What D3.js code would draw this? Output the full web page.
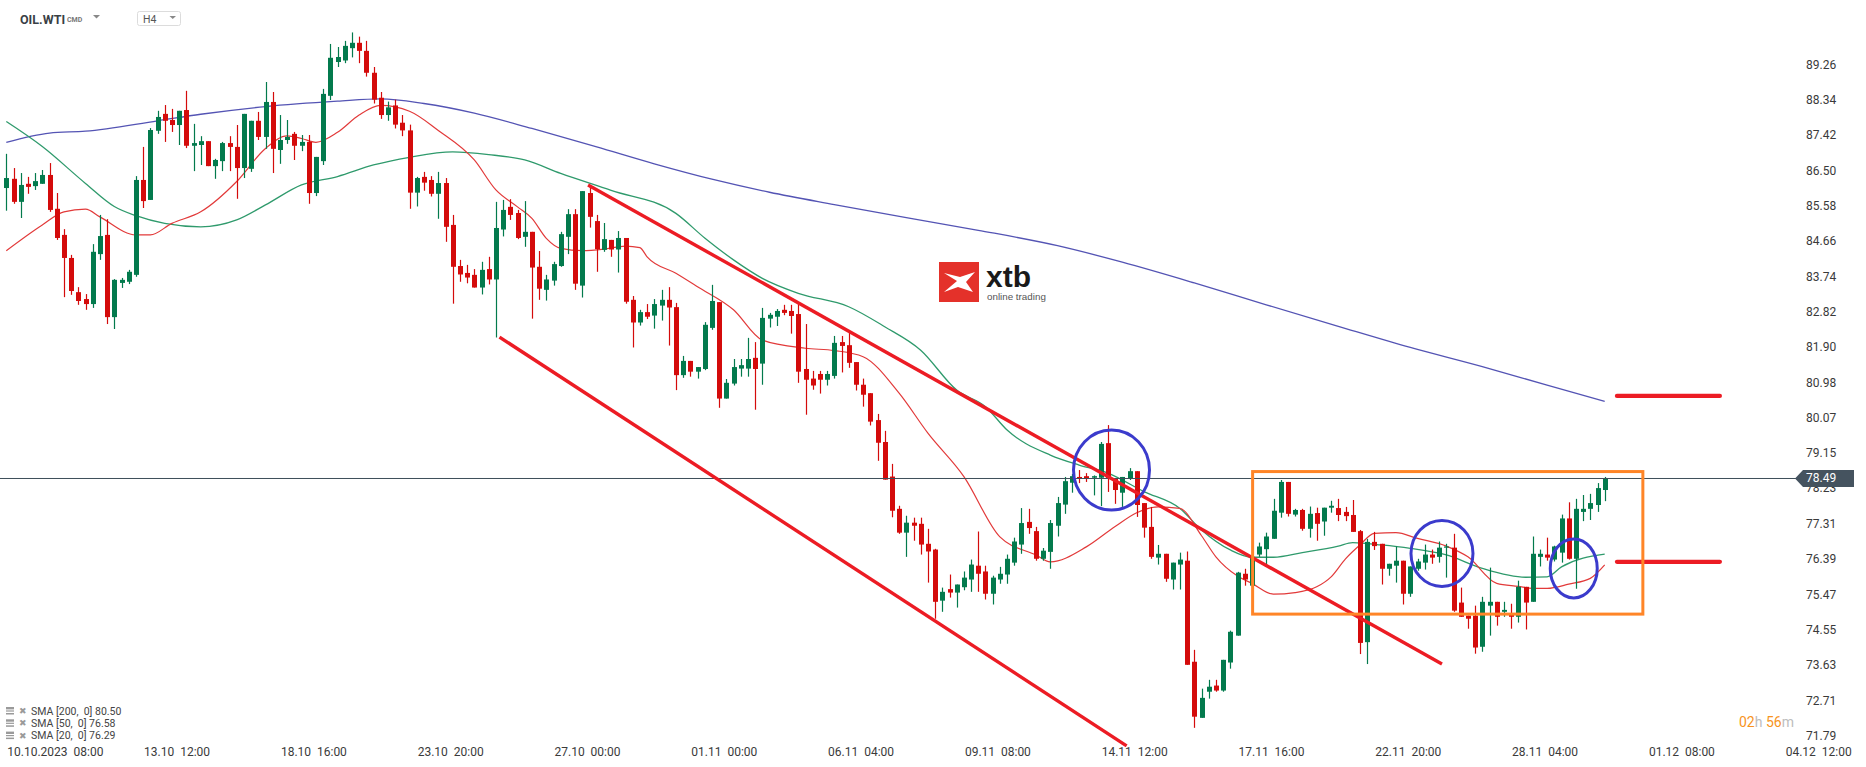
<!DOCTYPE html>
<html><head><meta charset="utf-8">
<script src="https://cdn.jsdelivr.net/npm/d3@7"></script>
<style>
body{margin:0;background:#fff;overflow:hidden}
svg{display:block;font-family:Roboto,"Noto Sans",sans-serif}
</style>
</head><body>
<svg id="chart" width="1866" height="767"></svg>
<script>
// ---------- DATA ----------
const opens=[86.05,86.29,85.69,86.16,86.10,86.16,86.39,85.51,84.83,84.23,
83.34,83.16,83.03,84.33,84.83,82.69,83.58,83.61,83.79,86.26,
85.74,87.54,87.98,87.82,87.69,88.08,87.15,87.17,87.27,86.62,
86.75,87.22,87.12,86.57,86.55,87.80,87.38,88.29,87.04,87.30,
87.46,87.15,87.25,85.92,86.75,88.45,89.33,89.37,89.69,89.83,
89.62,89.05,88.40,87.95,88.20,87.75,87.55,85.93,86.34,86.26,
85.90,86.18,85.09,84.02,83.84,83.79,83.46,83.94,83.67,84.97,
85.56,85.40,84.78,84.91,84.00,83.40,83.64,84.02,84.78,85.37,
83.51,85.92,85.19,84.44,84.70,84.45,84.75,83.14,82.55,82.82,
82.73,82.99,83.14,82.95,81.18,81.55,81.27,81.34,82.41,83.08,
80.57,80.96,81.35,81.35,81.63,81.48,82.65,82.70,82.88,82.85,
82.77,81.34,81.09,81.21,81.06,81.16,82.04,81.96,81.52,80.93,
80.71,80.01,79.44,78.54,77.70,77.08,77.34,77.31,76.79,76.64,
75.31,75.61,75.52,75.66,75.86,76.22,76.07,75.49,75.86,75.99,
76.30,76.77,77.36,77.12,76.40,76.58,77.26,77.81,78.38,78.53,
78.55,78.51,78.51,79.41,78.49,78.12,78.50,78.68,77.85,77.23,
76.43,76.53,75.86,76.25,76.35,73.72,72.26,72.94,73.10,72.97,
73.70,74.40,76.01,75.70,76.51,76.65,76.92,77.60,78.40,77.55,
77.67,77.18,77.59,77.37,77.73,77.72,77.62,77.54,77.12,74.23,
76.84,76.79,76.14,76.22,76.35,75.49,76.14,76.30,76.51,76.45,
76.69,76.69,75.26,74.92,74.92,74.11,75.18,75.28,75.02,74.97,
74.89,75.67,75.28,76.45,76.51,76.38,76.56,77.45,76.40,77.62,
77.70,77.80,78.19];
const highs=[86.94,86.57,86.44,86.34,86.44,86.52,86.70,85.92,84.98,84.31,
83.47,83.29,84.59,85.35,85.24,83.68,83.71,83.92,86.36,87.12,
87.61,88.06,88.21,88.11,88.06,88.58,87.72,87.40,87.27,86.81,
87.25,87.40,87.69,87.98,87.80,88.03,88.81,88.55,87.95,87.82,
87.51,87.43,87.43,86.86,88.63,89.80,89.72,89.88,90.10,89.99,
89.88,89.20,88.55,88.30,88.35,87.95,87.70,86.34,86.47,86.36,
86.47,86.31,85.35,84.18,84.05,83.94,84.13,84.26,85.69,85.74,
85.76,85.48,85.71,84.91,84.41,83.79,84.13,84.91,85.50,85.50,
85.97,86.08,85.35,85.14,84.70,84.93,84.75,83.24,82.88,83.03,
83.16,83.40,83.47,83.06,81.68,81.55,81.39,82.56,83.53,83.08,
81.08,81.60,81.60,82.15,82.04,82.93,82.80,82.90,83.01,83.01,
83.03,82.51,81.29,81.29,81.29,82.20,82.20,82.30,81.52,81.09,
80.71,80.17,79.73,78.87,77.78,77.52,77.47,77.47,77.18,76.66,
75.65,75.99,75.73,76.07,76.38,77.11,76.22,75.96,76.19,76.51,
76.95,77.72,77.70,77.23,76.68,77.41,78.01,78.53,78.61,78.71,
78.63,78.57,79.44,79.88,78.50,78.53,78.76,78.68,77.85,77.75,
76.76,76.53,76.30,76.56,76.59,74.03,73.02,73.25,73.25,73.77,
74.53,76.06,76.14,76.51,76.82,77.08,77.96,78.45,78.40,77.70,
77.70,77.76,77.73,77.73,77.91,77.96,77.75,77.93,77.15,76.92,
77.10,76.79,76.27,76.72,76.35,76.20,76.40,76.77,76.64,76.85,
76.79,77.05,75.65,74.92,75.18,75.41,76.17,75.28,75.28,75.23,
75.83,75.67,76.98,76.64,76.95,76.74,77.55,77.87,77.96,78.06,
78.09,78.37,78.53];
const lows=[85.46,85.64,85.27,85.90,86.00,86.16,85.43,84.70,83.21,83.27,
83.01,82.88,82.93,84.18,82.51,82.38,83.45,83.55,83.74,85.53,
85.74,87.46,87.25,87.51,87.17,87.09,86.49,86.65,86.62,86.29,
86.49,86.49,85.77,86.31,86.47,87.30,87.07,86.44,86.68,87.20,
86.78,87.01,85.64,85.84,86.65,88.34,89.20,89.30,89.45,89.30,
88.95,88.25,87.85,87.80,87.60,87.40,85.51,85.57,85.98,85.83,
85.25,84.65,83.04,83.61,83.57,83.46,83.28,83.54,82.16,84.79,
85.22,84.72,84.52,82.65,83.14,83.12,83.51,84.00,84.33,83.40,
83.20,85.02,83.87,84.39,84.26,83.85,83.04,81.90,82.47,82.64,
82.39,82.60,81.95,80.79,81.11,81.14,81.09,81.31,82.36,80.33,
80.57,80.91,81.14,81.14,80.28,80.93,82.42,82.46,82.74,82.26,
80.98,80.15,80.80,80.70,80.91,81.09,81.25,81.37,80.78,80.36,
79.87,78.95,78.46,77.48,77.05,76.45,76.87,76.51,75.78,74.84,
75.02,75.39,75.13,75.58,75.54,75.54,75.34,75.21,75.75,75.75,
76.22,76.53,77.05,76.35,76.35,76.14,76.98,77.57,78.12,78.37,
78.40,78.05,77.77,78.14,77.83,77.75,78.45,77.49,76.95,76.40,
76.25,75.80,75.60,75.60,73.64,72.00,72.26,72.76,72.94,72.94,
73.54,74.40,75.70,75.67,76.45,76.25,76.92,77.47,77.50,77.50,
77.13,76.95,76.87,77.00,77.60,77.38,77.38,77.10,73.92,73.66,
76.63,75.73,75.96,75.78,75.21,75.41,76.09,76.12,76.27,76.30,
75.91,75.02,74.89,74.58,73.93,73.98,74.40,74.66,74.89,74.58,
74.74,74.56,75.28,76.20,76.35,76.33,76.30,76.38,75.62,77.38,
77.41,77.62,77.90];
const closes=[86.31,85.69,86.13,86.08,86.23,86.39,85.48,84.75,84.23,83.37,
83.11,83.03,84.39,84.80,82.69,83.66,83.66,83.87,86.26,85.71,
87.56,87.90,87.80,87.69,88.06,87.15,87.22,87.27,86.62,86.78,
87.22,87.12,86.57,87.98,87.80,87.38,88.29,87.07,87.30,87.38,
87.15,87.25,85.92,86.86,88.50,89.44,89.46,89.75,89.83,89.62,
89.05,88.35,87.95,88.15,87.70,87.55,85.93,86.31,86.19,85.90,
86.18,85.04,84.00,83.80,83.72,83.46,83.92,83.67,85.01,85.48,
85.35,84.75,84.91,83.98,83.43,83.67,84.07,84.85,85.37,83.56,
85.97,85.30,84.46,84.72,84.45,84.75,83.09,82.55,82.82,82.70,
83.03,83.14,82.94,81.18,81.55,81.27,81.39,82.49,83.11,80.57,
80.98,81.39,81.44,81.60,81.34,82.67,82.75,82.85,82.80,82.72,
81.27,81.06,80.91,81.06,81.21,82.02,81.94,81.50,80.93,80.67,
79.97,79.42,78.46,77.65,77.08,77.34,77.26,76.77,76.59,75.28,
75.54,75.52,75.73,75.91,76.25,76.01,75.49,75.91,76.01,76.40,
76.85,77.33,77.20,76.40,76.61,77.33,77.85,78.42,78.55,78.49,
78.49,78.55,79.39,78.49,78.19,78.53,78.68,77.80,77.21,76.45,
76.53,75.88,76.30,76.38,73.64,72.29,72.78,73.07,72.97,73.77,
74.50,76.04,75.86,76.45,76.72,76.98,77.65,78.40,77.57,77.67,
77.18,77.57,77.31,77.73,77.78,77.54,77.51,77.10,74.21,76.84,
76.73,76.14,76.27,76.35,75.49,76.20,76.33,76.51,76.43,76.69,
76.72,75.05,74.89,74.84,74.09,75.28,75.28,74.89,75.07,74.89,
75.67,75.26,76.53,76.53,76.43,76.72,77.45,76.40,77.70,77.70,
77.85,78.24,78.49];

// moving averages: [bar index, value]
const sma200=[[0,87.24],[6,87.48],[11,87.53],[21,87.80],[27,87.97],[36,88.17],[46,88.31],[52,88.37],[58,88.25],[65,88.00],[73,87.60],[82,87.12],[90,86.68],[98,86.28],[106,85.94],[115,85.62],[125,85.28],[135,84.95],[146,84.55],[155,84.12],[165,83.58],[175,83.01],[185,82.45],[195,81.90],[205,81.40],[214,80.92],[222,80.50]];
const sma50=[[0,87.78],[5,87.13],[11,86.17],[15,85.57],[18,85.33],[22,85.13],[27,85.04],[32,85.22],[36,85.61],[41,86.13],[46,86.35],[51,86.65],[56,86.85],[62,86.99],[67,86.92],[72,86.78],[77,86.43],[84,85.99],[93,85.39],[97,84.75],[101,84.18],[105,83.70],[110,83.31],[117,82.96],[122,82.44],[127,81.83],[132,80.79],[136,80.36],[139,79.75],[145,79.10],[149,78.84],[153,78.63],[158,78.15],[163,77.71],[166,77.15],[170,76.63],[173,76.44],[176,76.44],[180,76.56],[185,76.73],[187,76.82],[191,76.76],[195,76.67],[200,76.50],[205,76.15],[211,75.92],[214,75.93],[216,76.19],[222,76.52]];
const sma20=[[0,84.42],[5,85.09],[8,85.43],[11,85.50],[13,85.30],[18,84.83],[20,84.83],[23,85.13],[27,85.43],[32,86.22],[36,87.08],[39,87.41],[41,87.34],[43,87.24],[46,87.50],[49,87.95],[52,88.20],[56,88.05],[60,87.55],[65,86.78],[68,86.00],[71,85.56],[73,85.26],[75,84.74],[77,84.48],[80,84.42],[83,84.46],[86,84.54],[88,84.50],[89,84.26],[93,83.83],[96,83.48],[101,82.88],[105,82.09],[111,81.88],[115,81.82],[119,81.66],[124,80.71],[128,79.67],[133,78.54],[138,76.97],[143,76.50],[145,76.32],[150,76.71],[154,77.24],[157,77.60],[160,77.75],[163,77.71],[166,77.00],[168,76.45],[171,75.95],[173,75.76],[176,75.48],[179,75.52],[182,75.67],[184,75.93],[186,76.40],[188,76.76],[190,77.06],[193,77.08],[196,76.93],[200,76.73],[203,76.45],[207,75.76],[210,75.68],[212,75.63],[214,75.63],[217,75.74],[220,75.89],[222,76.24]];

const lastPrice=78.49;
const priceTicks=["89.26","88.34","87.42","86.50","85.58","84.66","83.74","82.82","81.90","80.98","80.07","79.15","78.23","77.31","76.39","75.47","74.55","73.63","72.71","71.79"];
const dateTickIdx=[0,19,38,57,76,95,114,133,152,171,190,209,228,247];
const dateLabels=["10.10.2023  08:00","13.10  12:00","18.10  16:00","23.10  20:00","27.10  00:00","01.11  00:00","06.11  04:00","09.11  08:00","14.11  12:00","17.11  16:00","22.11  20:00","28.11  04:00","01.12  08:00","04.12  12:00"];
const legendNames=["SMA [200,  0] 80.50","SMA [50,  0] 76.58","SMA [20,  0] 76.29"];

// annotations in data coordinates [bar index, price]
const trendUpper=[[80.8,86.13],[199.4,73.66]];
const trendLower=[[68.5,82.17],[155.6,71.53]];
const rangeBox=[[173.1,78.67],[227.3,74.96]];
const circleCenters=[[153.5,78.71],[199.4,76.54],[217.7,76.15]];
const levelLines=[[223.7,238.0,80.64],[223.7,238.0,76.32]];

// ---------- DRAW ----------
const svg=d3.select("#chart");
const x=d3.scaleLinear().domain([0,247]).range([6.3,1784.7]);
const y=d3.scaleLinear().domain([71.79,89.26]).range([735.9,64.7]);

const GREEN="#037a4d", RED="#d40b0b";

// xtb watermark logo
const logo=svg.append("g");
logo.append("rect").attr("x",939).attr("y",262).attr("width",40).attr("height",40).attr("fill","#e4312a");
logo.append("path").attr("d","M944,273 L957,281 L944,292 L958,287 L973,292 L966,282 L975,272 L960,277 Z").attr("fill","#fff");
logo.append("text").attr("x",986).attr("y",287).attr("font-family","Arial, 'Liberation Sans', sans-serif").attr("font-weight","bold").attr("font-size",30).attr("fill","#1a1a1a").text("xtb");
logo.append("text").attr("x",987).attr("y",299.5).attr("font-family","Arial, 'Liberation Sans', sans-serif").attr("font-size",9.8).attr("fill","#555").text("online trading");

// moving averages
const line=d3.line().x(d=>x(d[0])).y(d=>y(d[1])).curve(d3.curveMonotoneX);
svg.append("path").datum(sma200).attr("d",line).attr("fill","none").attr("stroke","#5454b4").attr("stroke-width",1.3);
svg.append("path").datum(sma50).attr("d",line).attr("fill","none").attr("stroke","#2f9a6c").attr("stroke-width",1.3);
svg.append("path").datum(sma20).attr("d",line).attr("fill","none").attr("stroke","#e23a3a").attr("stroke-width",1.2);

// candles
const n=Math.min(opens.length,highs.length,lows.length,closes.length);
const idx=d3.range(n);
const cg=svg.append("g");
cg.selectAll("line").data(idx).join("line")
  .attr("x1",i=>Math.round(x(i))+0.5).attr("x2",i=>Math.round(x(i))+0.5)
  .attr("y1",i=>y(highs[i])).attr("y2",i=>y(lows[i]))
  .attr("stroke",i=>closes[i]>=opens[i]?GREEN:RED).attr("stroke-width",1.2);
cg.selectAll("rect").data(idx).join("rect")
  .attr("x",i=>Math.round(x(i))-2)
  .attr("width",5)
  .attr("y",i=>y(Math.max(opens[i],closes[i])))
  .attr("height",i=>Math.max(1.2,Math.abs(y(opens[i])-y(closes[i]))))
  .attr("fill",i=>closes[i]>=opens[i]?GREEN:RED);

// last price line
svg.append("line").attr("x1",0).attr("x2",1796).attr("y1",y(lastPrice)).attr("y2",y(lastPrice)).attr("stroke","#3e4e5a").attr("stroke-width",1);

// trend lines
[trendUpper,trendLower].forEach(t=>{
  svg.append("line").attr("x1",x(t[0][0])).attr("y1",y(t[0][1])).attr("x2",x(t[1][0])).attr("y2",y(t[1][1]))
    .attr("stroke","#ec1c24").attr("stroke-width",3.4);
});
// level lines
levelLines.forEach(l=>{
  svg.append("line").attr("x1",x(l[0])).attr("x2",x(l[1])).attr("y1",y(l[2])).attr("y2",y(l[2]))
    .attr("stroke","#ec1c24").attr("stroke-width",4.2).attr("stroke-linecap","round");
});
// range box
svg.append("rect").attr("x",x(rangeBox[0][0])).attr("y",y(rangeBox[0][1]))
  .attr("width",x(rangeBox[1][0])-x(rangeBox[0][0])).attr("height",y(rangeBox[1][1])-y(rangeBox[0][1]))
  .attr("fill","none").attr("stroke","#ff8527").attr("stroke-width",3);
// circles
const circleR=[[38,40],[31,33],[23.5,29.5]];
circleCenters.forEach((c,k)=>{
  svg.append("ellipse").attr("cx",x(c[0])).attr("cy",y(c[1])).attr("rx",circleR[k][0]).attr("ry",circleR[k][1])
    .attr("fill","none").attr("stroke","#3b3bcc").attr("stroke-width",3);
});

// price axis
svg.append("g").selectAll("text").data(priceTicks).join("text")
  .attr("x",1806).attr("y",d=>y(+d)).attr("dominant-baseline","central")
  .attr("font-size",12).attr("fill","#3a3a3a").text(d=>d);
// last price tag
const ly=y(lastPrice);
svg.append("path").attr("d",`M1795,${ly} L1803,${ly-8.5} L1854,${ly-8.5} L1854,${ly+8.5} L1803,${ly+8.5} Z`).attr("fill","#45535f");
svg.append("text").attr("x",1806).attr("y",ly).attr("dominant-baseline","central").attr("font-size",12).attr("fill","#fff").text(lastPrice.toFixed(2));

// date axis
svg.append("g").selectAll("text").data(dateTickIdx).join("text")
  .attr("x",i=>x(i)+1).attr("y",755.5).attr("font-size",12).attr("fill","#3a3a3a")
  .style("white-space","pre").text((d,k)=>dateLabels[k]);

// header
svg.append("text").attr("x",20).attr("y",24).attr("font-weight","bold").attr("font-size",12.5).attr("fill","#3a3f45").text("OIL.WTI");
svg.append("text").attr("x",67).attr("y",22).attr("font-weight","bold").attr("font-size",7).attr("fill","#777").text("CMD");
svg.append("path").attr("d","M93,15 L100,15 L96.5,18.5 Z").attr("fill","#888");
svg.append("rect").attr("x",137.5).attr("y",11.5).attr("width",43).attr("height",14).attr("rx",2).attr("fill","#fff").attr("stroke","#dcdcdc");
svg.append("text").attr("x",143).attr("y",23).attr("font-size",10.5).attr("fill","#555").text("H4");
svg.append("path").attr("d","M169.5,16 L176,16 L172.75,19 Z").attr("fill","#888");

// legend
legendNames.forEach((t,k)=>{
  const cy=711+k*12.3;
  const g=svg.append("g");
  g.append("rect").attr("x",6).attr("y",cy-4).attr("width",8).attr("height",2.4).attr("fill","#9a9a9a");
  g.append("rect").attr("x",6).attr("y",cy-0.6).attr("width",8).attr("height",1.2).attr("fill","#9a9a9a");
  g.append("rect").attr("x",6).attr("y",cy+2).attr("width",8).attr("height",1.5).attr("fill","#9a9a9a");
  g.append("text").attr("x",19).attr("y",cy).attr("dominant-baseline","central").attr("font-size",9).attr("fill","#9a9a9a").text("✖");
  g.append("text").attr("x",31).attr("y",cy).attr("dominant-baseline","central").attr("font-size",10.5).attr("fill","#444").style("white-space","pre").text(t);
});

// countdown
const cd=svg.append("text").attr("x",1739).attr("y",727).attr("font-size",14);
cd.append("tspan").attr("fill","#f7941d").text("02");
cd.append("tspan").attr("fill","#bdbdbd").text("h ");
cd.append("tspan").attr("fill","#f7941d").text("56");
cd.append("tspan").attr("fill","#bdbdbd").text("m");
</script>
</body></html>
